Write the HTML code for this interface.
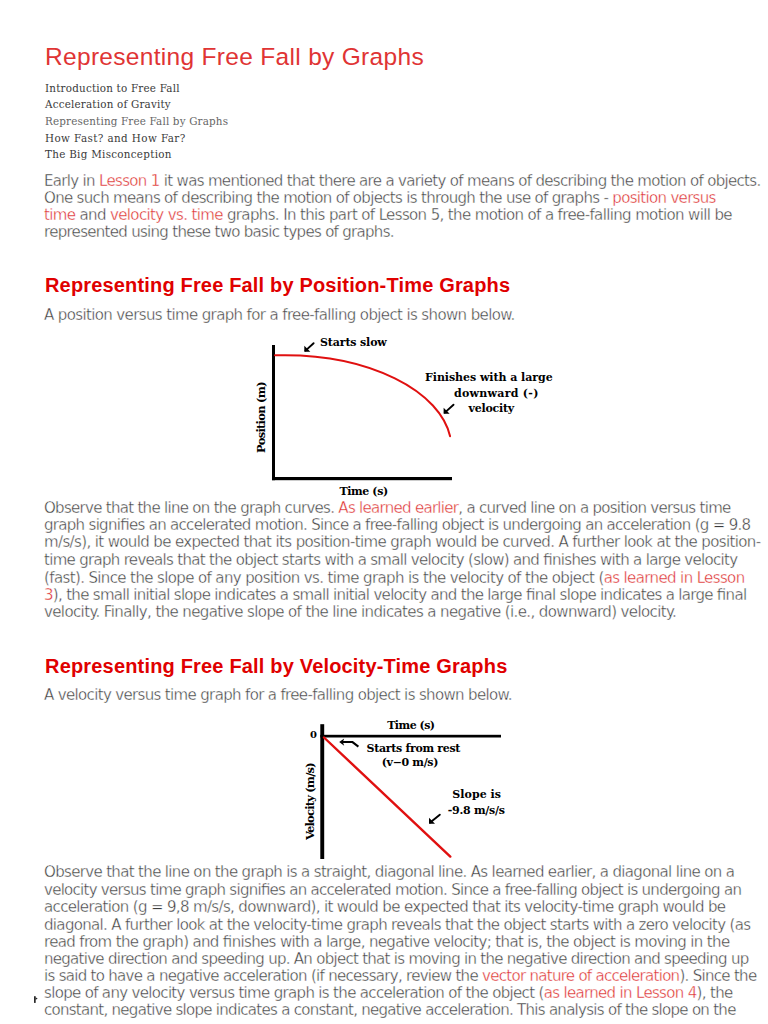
<!DOCTYPE html><html><head><meta charset="utf-8"><title>Representing Free Fall by Graphs</title><style>html,body{margin:0;padding:0;background:#fff;width:768px;height:1024px;overflow:hidden}svg{display:block}text{white-space:pre}</style></head><body>
<svg width="768" height="1024" viewBox="0 0 768 1024">
<text id="title" x="45" y="64.5" font-family="'Liberation Sans', Arial, sans-serif" font-size="24.5" fill="#e03434" textLength="378.63" lengthAdjust="spacing">Representing Free Fall by Graphs</text>
<text id="menu0" x="45" y="92.1" font-family="'DejaVu Serif Condensed', 'DejaVu Serif', serif" font-size="11.5" fill="#3a3a3a" textLength="134.52" lengthAdjust="spacing">Introduction to Free Fall</text>
<text id="menu1" x="45" y="108.4" font-family="'DejaVu Serif Condensed', 'DejaVu Serif', serif" font-size="11.5" fill="#3a3a3a" textLength="125.72" lengthAdjust="spacing">Acceleration of Gravity</text>
<text id="menu2" x="45" y="124.8" font-family="'DejaVu Serif Condensed', 'DejaVu Serif', serif" font-size="11.5" fill="#666" textLength="182.98" lengthAdjust="spacing">Representing Free Fall by Graphs</text>
<text id="menu3" x="45" y="141.6" font-family="'DejaVu Serif Condensed', 'DejaVu Serif', serif" font-size="11.5" fill="#3a3a3a" textLength="140.26" lengthAdjust="spacing">How Fast? and How Far?</text>
<text id="menu4" x="45" y="157.6" font-family="'DejaVu Serif Condensed', 'DejaVu Serif', serif" font-size="11.5" fill="#3a3a3a" textLength="126.43" lengthAdjust="spacing">The Big Misconception</text>
<text id="h2a" x="45" y="292" font-family="'Liberation Sans', Arial, sans-serif" font-weight="bold" font-size="20" fill="#e00000" textLength="465.02" lengthAdjust="spacing">Representing Free Fall by Position-Time Graphs</text>
<text id="h2b" x="45" y="672.7" font-family="'Liberation Sans', Arial, sans-serif" font-weight="bold" font-size="20" fill="#e00000" textLength="462.27" lengthAdjust="spacing">Representing Free Fall by Velocity-Time Graphs</text>
<text id="b0" x="44" y="185.6" font-family="'DejaVu Sans', Verdana, sans-serif" font-size="15.0" fill="#3c3c3c" stroke="#fff" stroke-width="0.38" textLength="717.25" lengthAdjust="spacing">Early in <tspan fill="#dc2a2a">Lesson 1</tspan> it was mentioned that there are a variety of means of describing the motion of objects.</text>
<text id="b1" x="44" y="202.5" font-family="'DejaVu Sans', Verdana, sans-serif" font-size="15.0" fill="#3c3c3c" stroke="#fff" stroke-width="0.38" textLength="672.42" lengthAdjust="spacing">One such means of describing the motion of objects is through the use of graphs - <tspan fill="#dc2a2a">position versus</tspan></text>
<text id="b2" x="44" y="219.5" font-family="'DejaVu Sans', Verdana, sans-serif" font-size="15.0" fill="#3c3c3c" stroke="#fff" stroke-width="0.38" textLength="688.52" lengthAdjust="spacing"><tspan fill="#dc2a2a">time</tspan> and <tspan fill="#dc2a2a">velocity vs. time</tspan> graphs. In this part of Lesson 5, the motion of a free-falling motion will be</text>
<text id="b3" x="44" y="236.7" font-family="'DejaVu Sans', Verdana, sans-serif" font-size="15.0" fill="#3c3c3c" stroke="#fff" stroke-width="0.38" textLength="350.55" lengthAdjust="spacing">represented using these two basic types of graphs.</text>
<text id="b4" x="44" y="320.3" font-family="'DejaVu Sans', Verdana, sans-serif" font-size="15.0" fill="#3c3c3c" stroke="#fff" stroke-width="0.38" textLength="471.28" lengthAdjust="spacing">A position versus time graph for a free-falling object is shown below.</text>
<text id="b5" x="44" y="513.4" font-family="'DejaVu Sans', Verdana, sans-serif" font-size="15.0" fill="#3c3c3c" stroke="#fff" stroke-width="0.38" textLength="687.28" lengthAdjust="spacing">Observe that the line on the graph curves. <tspan fill="#dc2a2a">As learned earlier</tspan>, a curved line on a position versus time</text>
<text id="b6" x="44" y="530.2" font-family="'DejaVu Sans', Verdana, sans-serif" font-size="15.0" fill="#3c3c3c" stroke="#fff" stroke-width="0.38" textLength="707.17" lengthAdjust="spacing">graph signifies an accelerated motion. Since a free-falling object is undergoing an acceleration (g = 9.8</text>
<text id="b7" x="44" y="547.3" font-family="'DejaVu Sans', Verdana, sans-serif" font-size="15.0" fill="#3c3c3c" stroke="#fff" stroke-width="0.38" textLength="717.08" lengthAdjust="spacing">m/s/s), it would be expected that its position-time graph would be curved. A further look at the position-</text>
<text id="b8" x="44" y="565" font-family="'DejaVu Sans', Verdana, sans-serif" font-size="15.0" fill="#3c3c3c" stroke="#fff" stroke-width="0.38" textLength="694.09" lengthAdjust="spacing">time graph reveals that the object starts with a small velocity (slow) and finishes with a large velocity</text>
<text id="b9" x="44" y="582.5" font-family="'DejaVu Sans', Verdana, sans-serif" font-size="15.0" fill="#3c3c3c" stroke="#fff" stroke-width="0.38" textLength="701.19" lengthAdjust="spacing">(fast). Since the slope of any position vs. time graph is the velocity of the object (<tspan fill="#dc2a2a">as learned in Lesson</tspan></text>
<text id="b10" x="44" y="599.7" font-family="'DejaVu Sans', Verdana, sans-serif" font-size="15.0" fill="#3c3c3c" stroke="#fff" stroke-width="0.38" textLength="703.06" lengthAdjust="spacing"><tspan fill="#dc2a2a">3</tspan>), the small initial slope indicates a small initial velocity and the large final slope indicates a large final</text>
<text id="b11" x="44" y="616.9" font-family="'DejaVu Sans', Verdana, sans-serif" font-size="15.0" fill="#3c3c3c" stroke="#fff" stroke-width="0.38" textLength="632.89" lengthAdjust="spacing">velocity. Finally, the negative slope of the line indicates a negative (i.e., downward) velocity.</text>
<text id="b12" x="44" y="700" font-family="'DejaVu Sans', Verdana, sans-serif" font-size="15.0" fill="#3c3c3c" stroke="#fff" stroke-width="0.38" textLength="468.56" lengthAdjust="spacing">A velocity versus time graph for a free-falling object is shown below.</text>
<text id="b13" x="44" y="876.8" font-family="'DejaVu Sans', Verdana, sans-serif" font-size="15.0" fill="#3c3c3c" stroke="#fff" stroke-width="0.38" textLength="690.91" lengthAdjust="spacing">Observe that the line on the graph is a straight, diagonal line. As learned earlier, a diagonal line on a</text>
<text id="b14" x="44" y="894.5" font-family="'DejaVu Sans', Verdana, sans-serif" font-size="15.0" fill="#3c3c3c" stroke="#fff" stroke-width="0.38" textLength="697.92" lengthAdjust="spacing">velocity versus time graph signifies an accelerated motion. Since a free-falling object is undergoing an</text>
<text id="b15" x="44" y="912.1" font-family="'DejaVu Sans', Verdana, sans-serif" font-size="15.0" fill="#3c3c3c" stroke="#fff" stroke-width="0.38" textLength="682.06" lengthAdjust="spacing">acceleration (g = 9,8 m/s/s, downward), it would be expected that its velocity-time graph would be</text>
<text id="b16" x="44" y="929.7" font-family="'DejaVu Sans', Verdana, sans-serif" font-size="15.0" fill="#3c3c3c" stroke="#fff" stroke-width="0.38" textLength="707.03" lengthAdjust="spacing">diagonal. A further look at the velocity-time graph reveals that the object starts with a zero velocity (as</text>
<text id="b17" x="44" y="946.5" font-family="'DejaVu Sans', Verdana, sans-serif" font-size="15.0" fill="#3c3c3c" stroke="#fff" stroke-width="0.38" textLength="686.11" lengthAdjust="spacing">read from the graph) and finishes with a large, negative velocity; that is, the object is moving in the</text>
<text id="b18" x="44" y="964.2" font-family="'DejaVu Sans', Verdana, sans-serif" font-size="15.0" fill="#3c3c3c" stroke="#fff" stroke-width="0.38" textLength="705.25" lengthAdjust="spacing">negative direction and speeding up. An object that is moving in the negative direction and speeding up</text>
<text id="b19" x="44" y="981.3" font-family="'DejaVu Sans', Verdana, sans-serif" font-size="15.0" fill="#3c3c3c" stroke="#fff" stroke-width="0.38" textLength="713.11" lengthAdjust="spacing">is said to have a negative acceleration (if necessary, review the <tspan fill="#dc2a2a">vector nature of acceleration</tspan>). Since the</text>
<text id="b20" x="44" y="998.1" font-family="'DejaVu Sans', Verdana, sans-serif" font-size="15.0" fill="#3c3c3c" stroke="#fff" stroke-width="0.38" textLength="689.22" lengthAdjust="spacing">slope of any velocity versus time graph is the acceleration of the object (<tspan fill="#dc2a2a">as learned in Lesson 4</tspan>), the</text>
<text id="b21" x="44" y="1015.4" font-family="'DejaVu Sans', Verdana, sans-serif" font-size="15.0" fill="#3c3c3c" stroke="#fff" stroke-width="0.38" textLength="692.38" lengthAdjust="spacing">constant, negative slope indicates a constant, negative acceleration. This analysis of the slope on the</text>
<rect x="272" y="345" width="3" height="135.2" fill="#000"/>
<rect x="272" y="477" width="180" height="3.2" fill="#000"/>
<path d="M275,355.3 L285,355.3 A166.5,93 0 0 1 450.1,436.3" stroke="#e01010" stroke-width="2" fill="none" stroke-linecap="round"/>
<path d="M305.5,350.6 L313.6,343.2" stroke="#000" stroke-width="1.9" stroke-linecap="round" fill="none"/><path d="M304.3,345.8 L304.3,351.8 L310.3,351.8 Z" fill="#000"/>
<text id="g_starts" x="320" y="346.2" font-family="'DejaVu Serif', serif" font-weight="bold" font-size="11" fill="#000" textLength="66.83" lengthAdjust="spacing">Starts slow</text>
<text id="g_fin1" x="425" y="380.8" font-family="'DejaVu Serif', serif" font-weight="bold" font-size="11" fill="#000" textLength="127.69" lengthAdjust="spacing">Finishes with a large</text>
<text id="g_fin2" x="454" y="397" font-family="'DejaVu Serif', serif" font-weight="bold" font-size="11" fill="#000" textLength="84.39" lengthAdjust="spacing">downward (-)</text>
<text id="g_fin3" x="468.5" y="412" font-family="'DejaVu Serif', serif" font-weight="bold" font-size="11" fill="#000" textLength="45.67" lengthAdjust="spacing">velocity</text>
<path d="M444.8,412.6 L453.5,404.7" stroke="#000" stroke-width="1.9" stroke-linecap="round" fill="none"/><path d="M443.6,407.8 L443.6,413.8 L449.6,413.8 Z" fill="#000"/>
<text id="g_time1" x="339.5" y="494.5" font-family="'DejaVu Serif', serif" font-weight="bold" font-size="11" fill="#000" textLength="48.64" lengthAdjust="spacing">Time (s)</text>
<g transform="translate(265.2,452.9) rotate(-90)"><text id="g_pos" x="0" y="0" font-family="'DejaVu Serif', serif" font-weight="bold" font-size="11.5" fill="#000" textLength="71.62" lengthAdjust="spacing">Position (m)</text></g>
<rect x="320.3" y="724.2" width="3.9" height="134.8" fill="#000"/>
<rect x="320.3" y="734.8" width="180.7" height="2.7" fill="#000"/>
<path d="M324,737.5 L450.3,856.6" stroke="#e01010" stroke-width="2.4" fill="none" stroke-linecap="round"/>
<text id="g_zero" x="310" y="738.4" font-family="'DejaVu Serif', serif" font-weight="bold" font-size="10" fill="#000">0</text>
<text id="g_time2" x="387.2" y="728.9" font-family="'DejaVu Serif', serif" font-weight="bold" font-size="11" fill="#000" textLength="47.84" lengthAdjust="spacing">Time (s)</text>
<path d="M339.2,742.1 L344.2,738.4 L342.8,742.1 L344.2,745.8 Z" fill="#000"/><path d="M342,742.1 L352.5,742.1 L358.4,746.6" stroke="#000" stroke-width="2" fill="none" stroke-linejoin="miter"/>
<text id="g_sfr" x="366.6" y="752.3" font-family="'DejaVu Serif', serif" font-weight="bold" font-size="11" fill="#000" textLength="93.85" lengthAdjust="spacing">Starts from rest</text>
<text id="g_v0" x="381.7" y="765.5" font-family="'DejaVu Serif', serif" font-weight="bold" font-size="11" fill="#000" textLength="56.76" lengthAdjust="spacing">(v−0 m/s)</text>
<text id="g_slope" x="452.3" y="798.4" font-family="'DejaVu Serif', serif" font-weight="bold" font-size="11" fill="#000" textLength="48.76" lengthAdjust="spacing">Slope is</text>
<text id="g_98" x="447.7" y="814.4" font-family="'DejaVu Serif', serif" font-weight="bold" font-size="11" fill="#000" textLength="57.19" lengthAdjust="spacing">-9.8 m/s/s</text>
<path d="M430.2,822.6 L439.8,814.7" stroke="#000" stroke-width="1.9" stroke-linecap="round" fill="none"/><path d="M429,817.8 L429,823.8 L435,823.8 Z" fill="#000"/>
<g transform="translate(314.3,840) rotate(-90)"><text id="g_vel" x="0" y="0" font-family="'DejaVu Serif', serif" font-weight="bold" font-size="11.5" fill="#000" textLength="77.73" lengthAdjust="spacing">Velocity (m/s)</text></g>
<rect x="34" y="996.2" width="1.7" height="6.7" fill="#2a2a2a"/><path d="M35.5,997.2 L37.7,998.4 L35.5,1000 Z" fill="#2a2a2a"/>
</svg></body></html>
